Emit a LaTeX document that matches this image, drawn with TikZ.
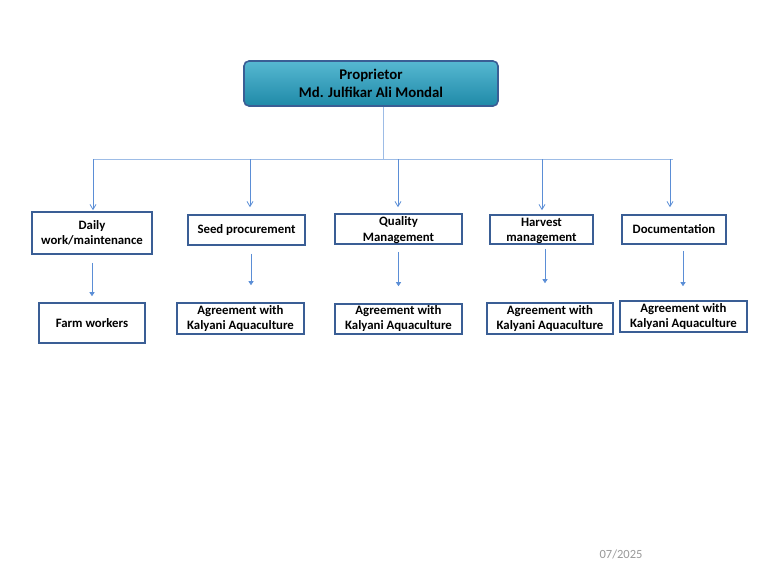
\documentclass[tikz,border=0pt]{standalone}
\usepackage{fontspec}
\setmainfont{Carlito}
\usetikzlibrary{arrows.meta,shadings}
\definecolor{boxborder}{HTML}{3A5E95}
\definecolor{linkblue}{HTML}{5B8ED6}
\definecolor{buslight}{HTML}{9DBCE6}
\definecolor{topfill}{HTML}{2CA6C6}
\definecolor{topdark}{HTML}{1F8AA8}
\tikzset{
  unitbox/.style={draw=boxborder,line width=1.6pt,fill=white,inner sep=0pt,font=\bfseries\fontsize{12.8}{15}\selectfont,align=center},
  busline/.style={draw=buslight,line width=1pt},
  downarrow/.style={draw=linkblue,line width=0.8pt,-{Straight Barb[length=5pt,width=6pt]}},
  lowarrow/.style={draw=linkblue,line width=0.8pt,-{Triangle[length=4pt,width=5pt]}},
}
\begin{document}
\begin{tikzpicture}[x=1pt,y=-1pt]
\useasboundingbox (0,0) rectangle (768,576);
% top box
\node[draw=boxborder,line width=1.6pt,rounded corners=5pt,top color=topfill!80!white,bottom color=topdark,minimum width=254pt,minimum height=45pt,inner sep=0pt,align=center,font=\bfseries\fontsize{14.8}{18}\selectfont] (top) at (371,83.5) {Proprietor\\Md. Julfikar Ali Mondal};
% bus
\coordinate (bj) at (383,159);
\coordinate (b1) at (93,159);
\coordinate (b2) at (250,159);
\coordinate (b3) at (398,159);
\coordinate (b4) at (542,159);
\coordinate (b5) at (670,159);
\coordinate (bend) at (673,159);
\draw[busline] (top.south -| bj) -- (bj);
\draw[busline] (b1) -- (bend);
% row 1
\node[unitbox,minimum width=120pt,minimum height=42pt] (d1) at (92,233) {Daily\\work/maintenance};
\node[unitbox,minimum width=117pt,minimum height=30pt] (d2) at (246.5,230) {Seed procurement};
\node[unitbox,minimum width=127pt,minimum height=30pt] (d3) at (398.5,229) {};
\node[font=\bfseries\fontsize{12.8}{16}\selectfont,align=center] (d3t) at (398.5,230) {Quality\\Management};
\node[unitbox,minimum width=103pt,minimum height=29pt] (d4) at (541.5,229.5) {};
\node[font=\bfseries\fontsize{12.8}{15}\selectfont,align=center] (d4t) at (541.5,230.5) {Harvest\\management};
\node[unitbox,minimum width=104pt,minimum height=29pt] (d5) at (674,229.5) {Documentation};
% arrows from bus
\draw[downarrow] (b1) -- ([yshift=1pt]b1 |- d1.north);
\draw[downarrow] (b2) -- ([yshift=7pt]b2 |- d2.north);
\draw[downarrow] (b3) -- ([yshift=6pt]b3 |- d3.north);
\draw[downarrow] (b4) -- ([yshift=4pt]b4 |- d4.north);
\draw[downarrow] (b5) -- ([yshift=7pt]b5 |- d5.north);
% row 2
\node[unitbox,minimum width=106pt,minimum height=40pt] (e1) at (92,323) {Farm workers};
\node[unitbox,minimum width=127pt,minimum height=31pt] (e2) at (240.5,318.5) {Agreement with\\Kalyani Aquaculture};
\node[unitbox,minimum width=127pt,minimum height=30pt] (e3) at (398.5,319) {Agreement with\\Kalyani Aquaculture};
\node[unitbox,minimum width=126pt,minimum height=31pt] (e4) at (550,318.5) {Agreement with\\Kalyani Aquaculture};
\node[unitbox,minimum width=127pt,minimum height=31pt] (e5) at (683.5,316.5) {Agreement with\\Kalyani Aquaculture};
% arrows row1->row2
\draw[lowarrow] ([yshift=-8pt]d1.south -| e1) -- ([yshift=6pt]e1.north);
\draw[lowarrow] ([yshift=-8pt]d2.south -| 251,0) -- ([yshift=17pt]e2.north -| 251,0);
\draw[lowarrow] ([yshift=-7pt]d3.south) -- ([yshift=17pt]e3.north);
\draw[lowarrow] ([yshift=-4pt]d4.south -| 545,0) -- ([yshift=19pt]e4.north -| 545,0);
\draw[lowarrow] ([yshift=-6pt]d5.south -| 683,0) -- ([yshift=14pt]e5.north -| 683,0);
% date
\node[text=black!40,font=\fontsize{12.5}{14}\selectfont] (date) at (621,554) {07/2025};
\end{tikzpicture}
\end{document}
